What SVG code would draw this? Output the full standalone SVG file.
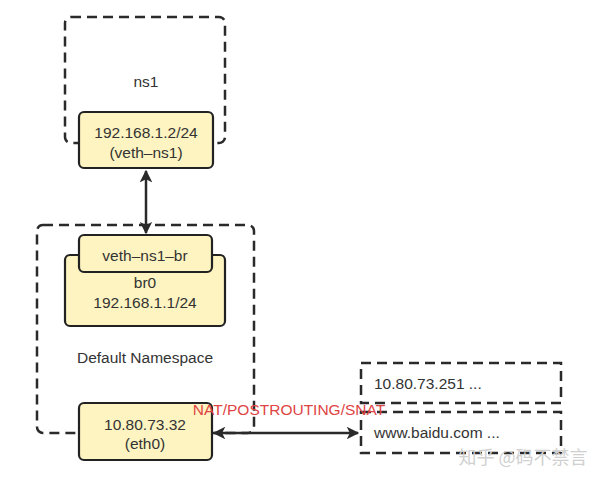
<svg xmlns="http://www.w3.org/2000/svg" width="600" height="481" viewBox="0 0 600 481">
<defs>
<style>
.ns{fill:none;stroke:#2a2a2a;stroke-width:2.5;stroke-dasharray:10 6}
.nd{fill:#fdf4c1;stroke:#222;stroke-width:2.2}
.t{font-family:"Liberation Sans",Arial,sans-serif;font-size:15.5px;fill:#333;text-anchor:middle}
.tl{font-family:"Liberation Sans",Arial,sans-serif;font-size:15.5px;fill:#333}
.ln{stroke:#2a2a2a;stroke-width:2.5;fill:none}
</style>
<marker id="ah" viewBox="0 0 10 10" refX="9" refY="5" markerWidth="6" markerHeight="5" orient="auto-start-reverse" markerUnits="strokeWidth">
<path d="M0,0 L10,5 L0,10 L2.5,5 Z" fill="#2a2a2a"/>
</marker>
</defs>
<rect width="600" height="481" fill="#fff"/>
<g id="ns1">
<rect class="ns" x="65" y="17" width="160" height="126" rx="6"/>
<text class="t" x="146" y="87">ns1</text>
</g>
<g id="default-namespace">
<rect class="ns" x="37" y="225" width="217" height="208" rx="6"/>
<text class="t" x="145" y="363">Default Namespace</text>
</g>
<g id="veth-ns1">
<rect class="nd" x="79" y="112" width="134" height="56" rx="5"/>
<text class="t" x="146" y="138">192.168.1.2/24</text>
<text class="t" x="146" y="158">(veth–ns1)</text>
</g>
<g id="br0">
<rect class="nd" x="65" y="255" width="160" height="71" rx="5"/>
<text class="t" x="145" y="288">br0</text>
<text class="t" x="145" y="308">192.168.1.1/24</text>
</g>
<g id="veth-ns1-br">
<rect class="nd" x="79" y="235" width="133" height="37" rx="5"/>
<text class="t" x="145" y="261">veth–ns1–br</text>
</g>
<g id="eth0">
<rect class="nd" x="79" y="403" width="133" height="57" rx="5"/>
<text class="t" x="145" y="430">10.80.73.32</text>
<text class="t" x="145" y="449">(eth0)</text>
</g>
<g id="ext1">
<rect class="ns" x="361" y="363" width="200" height="40"/>
<text class="tl" x="374" y="389">10.80.73.251 ...</text>
</g>
<g id="ext2">
<rect class="ns" x="361" y="412" width="200" height="41"/>
<text class="tl" x="374" y="438">www.baidu.com ...</text>
</g>
<g id="connectors">
<line class="ln" x1="146" y1="171" x2="146" y2="233" marker-start="url(#ah)" marker-end="url(#ah)"/>
<line class="ln" x1="214" y1="433" x2="358" y2="433" marker-start="url(#ah)" marker-end="url(#ah)"/>
<text x="289" y="415" font-family="'Liberation Sans',Arial,sans-serif" font-size="15.5" fill="#e04444" text-anchor="middle">NAT/POSTROUTING/SNAT</text>
</g>
<text x="523" y="464" font-family="'Noto Sans CJK SC','Liberation Sans',sans-serif" font-size="18" fill="#d0d0d0" text-anchor="middle">知乎 @码不禁言</text>
</svg>
